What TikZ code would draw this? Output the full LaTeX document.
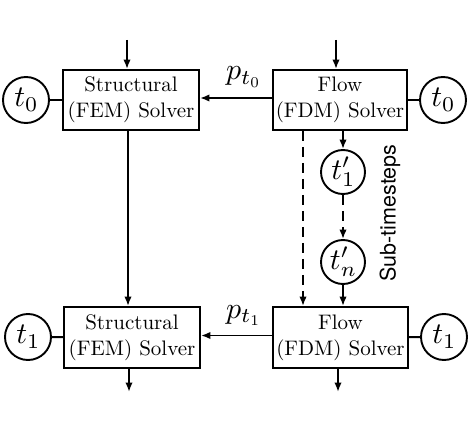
\RequirePackage{fix-cm}
\documentclass[tikz,border=0pt]{standalone}
\usepackage{fontspec}
\setmainfont{Latin Modern Roman}[OpticalSize=10]
\setsansfont{TeX Gyre Heros}
\DeclareFontShape{OML}{cmm}{m}{it}{<-24>cmmi7 <24->cmmi10}{\skewchar\font=127}
\DeclareFontShape{OT1}{cmr}{m}{n}{<-24>cmr7 <24->cmr10}{}
\DeclareFontShape{OMS}{cmsy}{m}{n}{<-24>cmsy7 <24->cmsy10}{\skewchar\font=48}
\usetikzlibrary{arrows.meta}
\begin{document}
\begin{tikzpicture}[x=1pt,y=-1pt, line width=1.9pt,
  solver/.style={draw, rectangle, minimum width=136pt, minimum height=60pt, inner sep=0pt, align=center, font=\fontsize{21}{26}\selectfont},
  tcirc/.style={draw, circle, minimum size=46pt, inner sep=0pt, font=\fontsize{30}{36}\selectfont},
  plabel/.style={anchor=base, inner sep=0pt, font=\fontsize{30}{36}\selectfont},
  arr/.style={-{Latex[length=9.5pt,width=7.5pt]}},
  dashpat/.style={dash pattern=on 10pt off 6pt}]
\useasboundingbox (0,0) rectangle (474,428);
% boxes
\node[solver] (b1) at (131,100) {Structural\\(FEM) Solver};
\node[solver, minimum width=134pt] (b2) at (340,100) {Flow\\(FDM) Solver};
\node[solver, minimum height=61pt] (b3) at (132,337.5) {Structural\\(FEM) Solver};
\node[solver, minimum width=135pt, minimum height=61pt] (b4) at (340.5,337.5) {Flow\\(FDM) Solver};
% time circles
\node[tcirc] (c1) at (26,100) {$t_0$};
\node[tcirc] (c2) at (443,100) {$t_0$};
\node[tcirc] (c3) at (28,337) {$t_1$};
\node[tcirc] (c4) at (444,337) {$t_1$};
\node[tcirc, minimum size=44pt] (s1) at (343,172) {$t'_1$};
\node[tcirc, minimum size=44pt] (sn) at (343,262) {$t'_n$};
% labels
\node[plabel] (p0) at (243,80) {$p_{t_0}$};
\node[plabel] (p1) at (243,318) {$p_{t_1}$};
\node[rotate=90, font=\sffamily\fontsize{21.5}{26}\selectfont, inner sep=0pt] (sub) at (390,213) {Sub-timesteps};
% coordinates
\coordinate (in1) at (127,40);
\coordinate (in2) at (336,40);
\coordinate (v1) at (128,0);
\coordinate (dx) at (303,0);
\coordinate (out1) at (129,392);
\coordinate (out2) at (338,392);
% connectors
\draw (c1) -- (b1);
\draw (c2) -- (b2);
\draw (c3) -- (b3);
\draw (c4) -- (b4);
\draw[arr] (in1) -- (in1 |- b1.north);
\draw[arr] (in2) -- (in2 |- b2.north);
\draw[arr] ([yshift=2pt]b2.west) -- ([yshift=2pt]b1.east);
\draw[arr] ([yshift=2pt]b4.west) -- ([yshift=2pt]b3.east);
\draw[arr] (v1 |- b1.south) -- (v1 |- b3.north);
\draw[arr] (s1.north |- b2.south) -- (s1.north);
\draw[arr, dashpat] (s1) -- (sn);
\draw[arr] (sn) -- (sn.south |- b4.north);
\draw[arr, dashpat] (dx |- b2.south) -- (dx |- b4.north);
\draw[arr] (out1 |- b3.south) -- (out1);
\draw[arr] (out2 |- b4.south) -- (out2);
\end{tikzpicture}
\end{document}
